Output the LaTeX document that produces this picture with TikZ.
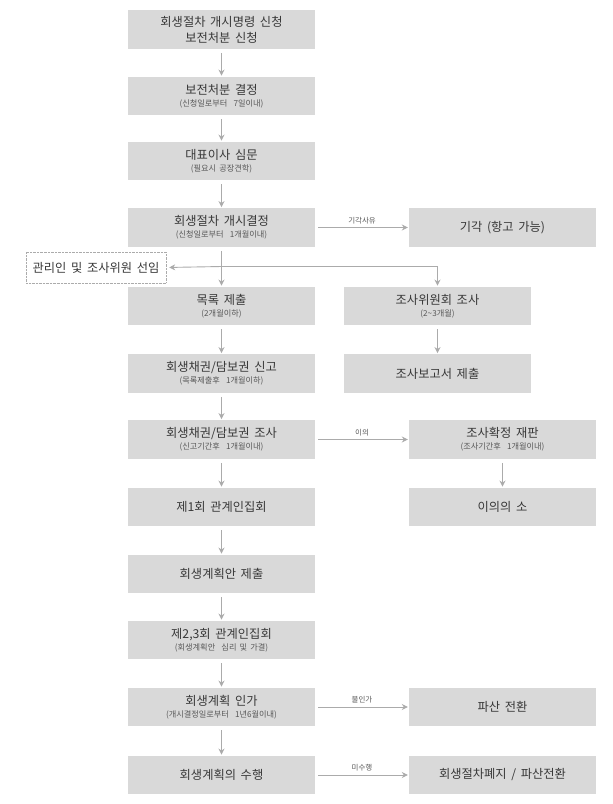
\documentclass[tikz,border=0pt]{standalone}
\usepackage{fontspec}
\setmainfont{Noto Sans CJK KR}
\newfontfamily\kr[WordSpace=1.7]{Noto Sans CJK KR}
\usetikzlibrary{arrows.meta}
\definecolor{boxfill}{HTML}{D9D9D9}
\definecolor{txt}{HTML}{383838}
\definecolor{subtxt}{HTML}{585858}
\definecolor{arr}{HTML}{ABABAB}
\newcommand{\mt}[1]{{\fontsize{12.3}{14}\selectfont #1}}
\newcommand{\st}[1]{{\fontsize{8.2}{9}\selectfont\color{subtxt} #1}}
\tikzset{
  stepbox/.style={fill=boxfill, draw=none, minimum width=187bp, minimum height=38.5bp,
    inner sep=0pt, align=center, text=txt, font=\kr},
  mgrbox/.style={draw=arr, densely dotted, fill=white, minimum width=140bp, minimum height=31bp,
    inner sep=0pt, align=center, text=txt, font=\kr},
  flow/.style={draw=arr, line width=0.9bp, -{Stealth[length=6bp,width=6bp]}},
  downflow/.style={flow, shorten <=4bp, shorten >=1bp},
  sideflow/.style={flow, shorten <=3bp, shorten >=1bp},
  lbl/.style={font=\kr\fontsize{7.5}{8}\selectfont, text=subtxt, inner sep=1pt}
}
\begin{document}
\begin{tikzpicture}[x=1bp,y=-1bp]
\useasboundingbox (0,0) rectangle (613,804);
% left column
\node[stepbox] (b1) at (221.5,29.5) {\mt{회생절차 개시명령 신청}\\[4pt]\mt{보전처분 신청}};
\node[stepbox] (b2) at (221.5,96) {\mt{보전처분 결정}\\[0pt]\st{(신청일로부터 \ 7일이내)}};
\node[stepbox] (b3) at (221.5,161) {\mt{대표이사 심문}\\[0pt]\st{(필요시 공장견학)}};
\node[stepbox] (b4) at (221.5,227.5) {\mt{회생절차 개시결정}\\[0pt]\st{(신청일로부터 \ 1개월이내)}};
\node[stepbox] (b5) at (221.5,306) {\mt{목록 제출}\\[0pt]\st{(2개월이하)}};
\node[stepbox] (b6) at (221.5,373.5) {\mt{회생채권/담보권 신고}\\[0pt]\st{(목록제출후 \ 1개월이하)}};
\node[stepbox] (b7) at (221.5,439.5) {\mt{회생채권/담보권 조사}\\[0pt]\st{(신고기간후 \ 1개월이내)}};
\node[stepbox] (b8) at (221.5,507) {\mt{제1회 관계인집회}};
\node[stepbox] (b9) at (221.5,574) {\mt{회생계획안 제출}};
\node[stepbox] (b10) at (221.5,640) {\mt{제2,3회 관계인집회}\\[0pt]\st{(회생계획안 \ 심리 및 가결)}};
\node[stepbox] (b11) at (221.5,707) {\mt{회생계획 인가}\\[0pt]\st{(개시결정일로부터 \ 1년6월이내)}};
\node[stepbox] (b12) at (221.5,775) {\mt{회생계획의 수행}};
% middle column
\node[stepbox] (m1) at (437.5,306) {\mt{조사위원회 조사}\\[0pt]\st{(2\textasciitilde3개월)}};
\node[stepbox] (m2) at (437.5,373.5) {\mt{조사보고서 제출}};
% right column
\node[stepbox] (r1) at (502.5,227.5) {\mt{기각 (항고 가능)}};
\node[stepbox] (r2) at (502.5,439.5) {\mt{조사확정 재판}\\[0pt]\st{(조사기간후 \ 1개월이내)}};
\node[stepbox] (r3) at (502.5,507) {\mt{이의의 소}};
\node[stepbox] (r4) at (502.5,707) {\mt{파산 전환}};
\node[stepbox] (r5) at (502.5,775) {\mt{회생절차폐지 / 파산전환}};
% manager box
\node[mgrbox] (mgr) at (96,267.5) {\mt{관리인 및 조사위원 선임}};
% down arrows
\draw[downflow] (b1) -- (b2);
\draw[downflow] (b2) -- (b3);
\draw[downflow] (b3) -- (b4);
\draw[downflow] (b4) -- (b5);
\draw[downflow] (b5) -- (b6);
\draw[downflow] (b6) -- (b7);
\draw[downflow] (b7) -- (b8);
\draw[downflow] (b8) -- (b9);
\draw[downflow] (b9) -- (b10);
\draw[downflow] (b10) -- (b11);
\draw[downflow] (b11) -- (b12);
\draw[downflow] (m1) -- (m2);
\draw[downflow] (r2) -- (r3);
% split
\coordinate (split) at (221.5,266.5);
\draw[flow, shorten >=3bp] (split) -- (mgr.east);
\draw[flow, shorten >=1bp] (split) -| (m1.north);
% side arrows
\draw[sideflow] (b4) -- node[lbl, above=2bp] {기각사유} (r1);
\draw[sideflow] (b7) -- node[lbl, above=2bp] {이의} (r2);
\draw[sideflow] (b11) -- node[lbl, above=2bp] {불인가} (r4);
\draw[sideflow] (b12) -- node[lbl, above=2bp] {미수행} (r5);
\end{tikzpicture}
\end{document}
